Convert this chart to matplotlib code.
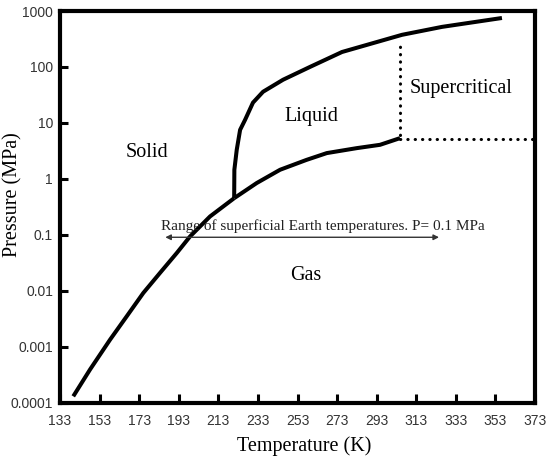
import numpy as np
import matplotlib
matplotlib.use('Agg')
import matplotlib.pyplot as plt
from matplotlib.ticker import FixedLocator, FixedFormatter, NullLocator

# phase boundaries (T in K, P in MPa)
subl_T = [139.7, 148.2, 158.3, 166.7, 175.1, 183.5, 192.0, 198.7, 208.8, 221.0]
subl_P = [1.29e-4, 3.9e-4, 1.33e-3, 3.47e-3, 9.1e-3, 0.0207, 0.0471, 0.093, 0.212, 0.45]

melt_T = [221.0, 221.1, 222.3, 224.0, 226.5, 230.5, 235.6, 245.7, 259.3, 275.5, 305.8, 326.0, 356.3]
melt_P = [0.45, 1.45, 3.3, 7.5, 11.3, 23.0, 36.0, 59.0, 100.0, 185.0, 375.0, 520.0, 750.0]

vap_T = [221.0, 232.4, 244.2, 257.6, 267.8, 282.9, 294.7, 304.8]
vap_P = [0.45, 0.84, 1.45, 2.18, 2.88, 3.53, 4.05, 5.33]

# supercritical boundary (dotted)
sc_vert_T = [304.8, 304.8]
sc_vert_P = [6.0, 270.0]
sc_horiz_T = [304.8, 373.0]
sc_horiz_P = [5.2, 5.2]

# earth temperature range arrow
arrow_T = [186.2, 324.5]
arrow_P = 0.09

x_ticks = [133, 153, 173, 193, 213, 233, 253, 273, 293, 313, 333, 353, 373]
y_ticks = [1e-4, 1e-3, 1e-2, 1e-1, 1, 10, 100, 1000]
y_labels = ['0.0001', '0.001', '0.01', '0.1', '1', '10', '100', '1000']

serif = ['Liberation Serif', 'DejaVu Serif']

fig = plt.figure(figsize=(5.5, 4.57), dpi=100)
ax = fig.add_axes([60/550, 1-402.5/457, 475/550, 391.5/457])
ax.set_yscale('log')
ax.set_xlim(133, 373)
ax.set_ylim(1e-4, 1e3)

lw = 2.9
ax.plot(subl_T, subl_P, color='black', lw=lw, solid_capstyle='butt', solid_joinstyle='round')
ax.plot(melt_T, melt_P, color='black', lw=lw, solid_capstyle='butt', solid_joinstyle='round')
ax.plot(vap_T, vap_P, color='black', lw=lw, solid_capstyle='butt', solid_joinstyle='round')

dots = dict(color='black', lw=2.2, linestyle=(0, (0.1, 2.3)), dash_capstyle='round')
ax.plot(sc_vert_T, sc_vert_P, **dots)
ax.plot(sc_horiz_T, sc_horiz_P, **dots)

ax.annotate('', xy=(arrow_T[0], arrow_P), xytext=(arrow_T[1], arrow_P),
            arrowprops=dict(arrowstyle='<|-|>', color='#333333', lw=1.0,
                            mutation_scale=8, shrinkA=0, shrinkB=0))
ax.text(265.6, 0.123, 'Range of superficial Earth temperatures. P= 0.1 MPa',
        ha='center', va='baseline', fontsize=11, family=serif, color='#222222')

ax.text(176.7, 3.0, 'Solid', ha='center', va='center', fontsize=14.5, family=serif)
ax.text(260.1, 12.8, 'Liquid', ha='center', va='center', fontsize=14.5, family=serif)
ax.text(335.4, 40.5, 'Supercritical', ha='center', va='center', fontsize=14.5, family=serif)
ax.text(257.3, 0.0186, 'Gas', ha='center', va='center', fontsize=14.5, family=serif)

for s in ax.spines.values():
    s.set_linewidth(3.0)

ax.xaxis.set_major_locator(FixedLocator(x_ticks))
ax.xaxis.set_minor_locator(NullLocator())
ax.yaxis.set_major_locator(FixedLocator(y_ticks))
ax.yaxis.set_major_formatter(FixedFormatter(y_labels))
ax.yaxis.set_minor_locator(NullLocator())

ax.tick_params(axis='x', direction='in', length=6.8, width=2.2, pad=8,
               labelsize=10, labelcolor='#333333', labelfontfamily='Liberation Sans')
ax.tick_params(axis='y', direction='in', length=5.8, width=2.2, pad=5,
               labelsize=10, labelcolor='#333333', labelfontfamily='Liberation Sans')

ax.set_xlabel('Temperature (K)', fontsize=14.5, family=serif)
ax.xaxis.set_label_coords(0.514, -0.085)
ax.set_ylabel('Pressure (MPa)', fontsize=14.5, family=serif)
ax.yaxis.set_label_coords(-0.08, 0.53)

fig.savefig('out.png', dpi=100)
